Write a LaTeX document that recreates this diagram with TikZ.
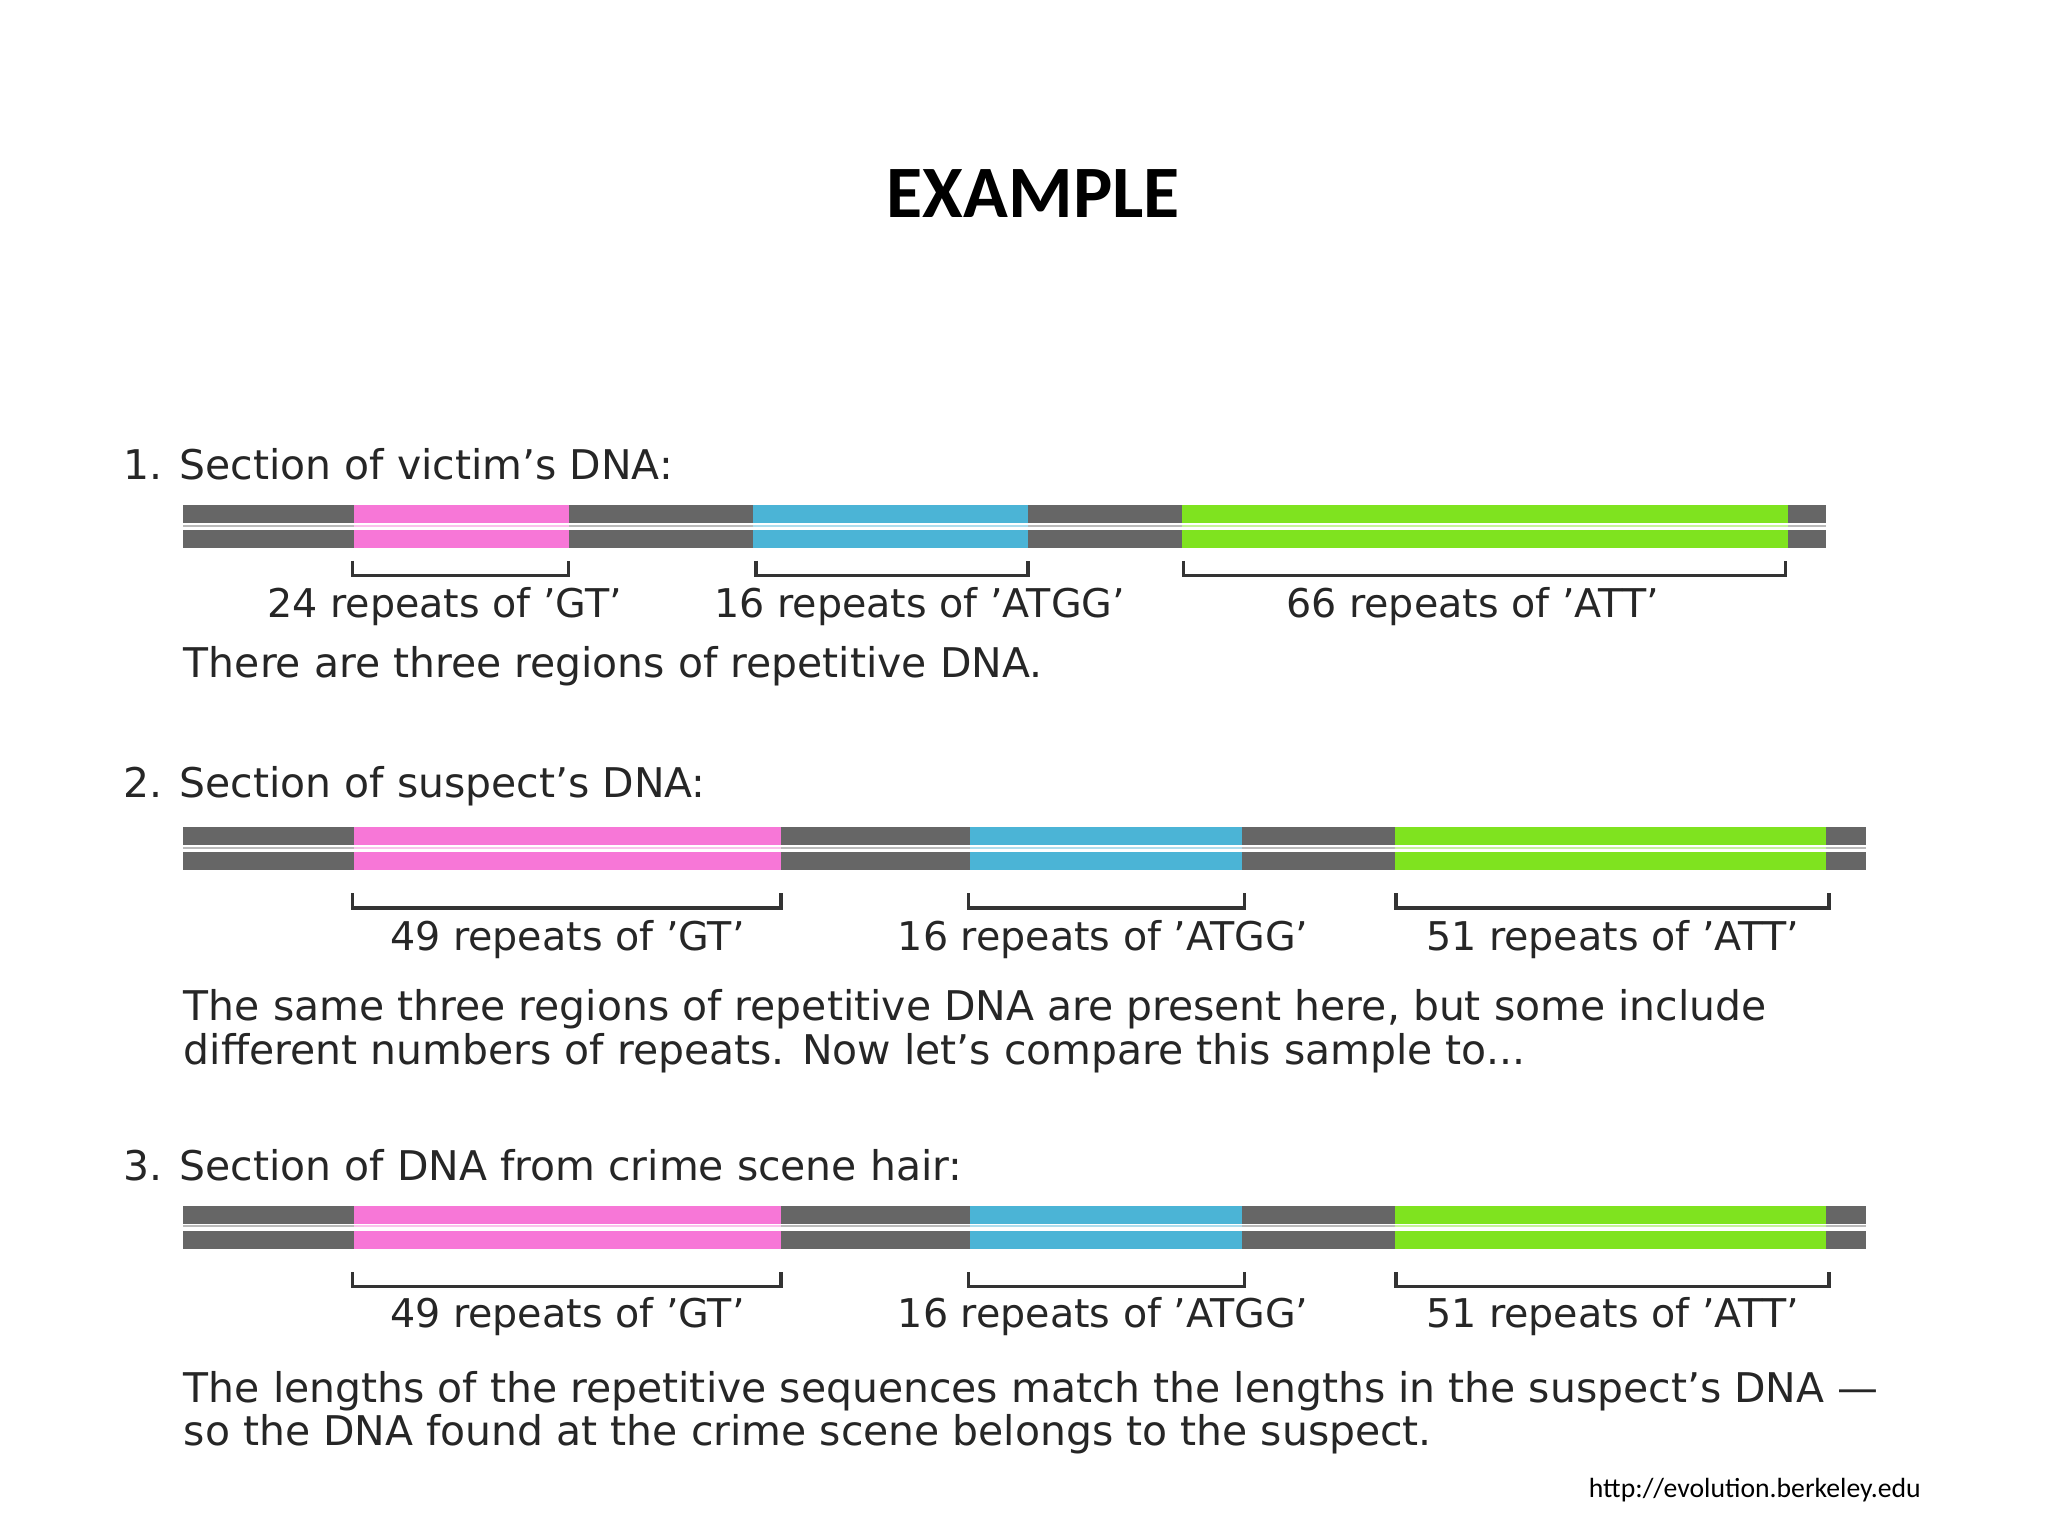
\documentclass[tikz,border=0pt]{standalone}
\usepackage{fontspec}
\setmainfont{DejaVu Sans}
\newfontfamily\carlitofont{Carlito}
\definecolor{dgray}{HTML}{666666}
\definecolor{dpink}{HTML}{F777D7}
\definecolor{dblue}{HTML}{4BB4D6}
\definecolor{dgreen}{HTML}{7FE31F}
\tikzset{
 txt/.style={inner sep=0pt,anchor=west,font=\fontsize{15.5}{18}\selectfont,text=black!85},
 lab/.style={inner sep=0pt,font=\fontsize{15}{18}\selectfont,text=black!85},
 brk/.style={line width=1.3pt,draw=black!80}
}
\newcommand{\dnaseg}[4]{% x1 x2 ytop color
 \fill[#4] (#1,#3) rectangle (#2,#3+13.5);
 \fill[#4] (#1,#3+19) rectangle (#2,#3+32.5);
 \fill[#4!45!white] (#1,#3+14.5) rectangle (#2,#3+16);}
\newcommand{\dnabrk}[3]{\draw[brk] (#1,#3) -- (#1,#3+11) -- (#2,#3+11) -- (#2,#3);}
\begin{document}
\begin{tikzpicture}[x=0.5pt,y=-0.5pt]
\useasboundingbox (0,0) rectangle (1552,1164);
\fill[white] (0,0) rectangle (1552,1164);
\node[font=\carlitofont\bfseries\fontsize{28}{32}\selectfont] (title) at (783,147) {EXAMPLE};
% row 1
\node[txt] (h1) at (93,352) {1. Section of victim's DNA:};
\dnaseg{139}{268}{383}{dgray}\dnaseg{268}{431}{383}{dpink}\dnaseg{431}{571}{383}{dgray}
\dnaseg{571}{779}{383}{dblue}\dnaseg{779}{896}{383}{dgray}\dnaseg{896}{1355}{383}{dgreen}\dnaseg{1355}{1384}{383}{dgray}
\dnabrk{267}{431}{425}\dnabrk{573}{779}{425}\dnabrk{897}{1353}{425}
\node[lab] (l11) at (337,460) {24 repeats of 'GT'};
\node[lab] (l12) at (697,460) {16 repeats of 'ATGG'};
\node[lab] (l13) at (1116,460) {66 repeats of 'ATT'};
\node[txt] (t1) at (139,505) {There are three regions of repetitive DNA.};
% row 2
\node[txt] (h2) at (93,596) {2. Section of suspect's DNA:};
\dnaseg{139}{268}{627}{dgray}\dnaseg{268}{592}{627}{dpink}\dnaseg{592}{735}{627}{dgray}
\dnaseg{735}{941}{627}{dblue}\dnaseg{941}{1057}{627}{dgray}\dnaseg{1057}{1384}{627}{dgreen}\dnaseg{1384}{1414}{627}{dgray}
\dnabrk{267}{592}{677}\dnabrk{734}{943}{677}\dnabrk{1058}{1386}{677}
\node[lab] (l21) at (430,712) {49 repeats of 'GT'};
\node[lab] (l22) at (836,712) {16 repeats of 'ATGG'};
\node[lab] (l23) at (1222,712) {51 repeats of 'ATT'};
\node[txt] (t2a) at (139,765) {The same three regions of repetitive DNA are present here, but some include};
\node[txt] (t2b) at (139,798) {different numbers of repeats. Now let's compare this sample to...};
% row 3
\node[txt] (h3) at (93,883) {3. Section of DNA from crime scene hair:};
\dnaseg{139}{268}{914}{dgray}\dnaseg{268}{592}{914}{dpink}\dnaseg{592}{735}{914}{dgray}
\dnaseg{735}{941}{914}{dblue}\dnaseg{941}{1057}{914}{dgray}\dnaseg{1057}{1384}{914}{dgreen}\dnaseg{1384}{1414}{914}{dgray}
\dnabrk{267}{592}{964}\dnabrk{734}{943}{964}\dnabrk{1058}{1386}{964}
\node[lab] (l31) at (430,998) {49 repeats of 'GT'};
\node[lab] (l32) at (836,998) {16 repeats of 'ATGG'};
\node[lab] (l33) at (1222,998) {51 repeats of 'ATT'};
\node[txt] (t3a) at (139,1054) {The lengths of the repetitive sequences match the lengths in the suspect's DNA —};
\node[txt] (t3b) at (139,1087) {so the DNA found at the crime scene belongs to the suspect.};
\node[inner sep=0pt,anchor=east,font=\carlitofont\fontsize{10.5}{12}\selectfont] (url) at (1456,1129) {http://evolution.berkeley.edu};
\end{tikzpicture}
\end{document}
